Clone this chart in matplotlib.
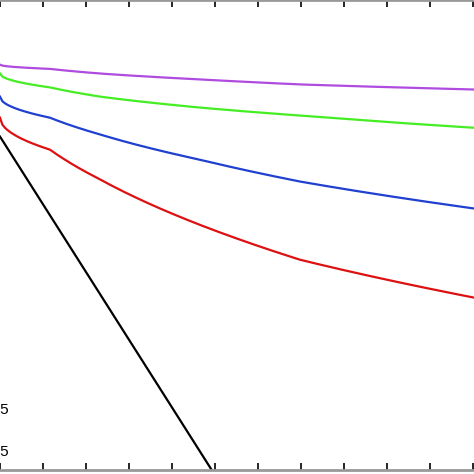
import matplotlib
matplotlib.use("Agg")
import matplotlib.pyplot as plt
import numpy as np

x = [0, 1.16, 2.33, 4.65, 6.98, 11.02]
purple = [0.971, 0.961, 0.950, 0.936, 0.924, 0.912]
green = [0.950, 0.917, 0.895, 0.869, 0.850, 0.821]
blue = [0.895, 0.845, 0.805, 0.745, 0.693, 0.629]
red = [0.845, 0.769, 0.698, 0.590, 0.507, 0.417]
black_x = [0, 5.81]
black_y = [0.800, -0.136]
ytick_vals = [0.05, 0.15]
ytick_labels = ["0.05", "0.15"]
xticks = list(range(0, 12))

fig = plt.figure(figsize=(4.74, 4.74), dpi=100)
ax = fig.add_axes([0, 4/474, 1, 1 - 4/474 + 0.001])
ax.set_xlim(0, 11.02)
ax.set_ylim(0.007, 1.126)

def smooth(xs, ys):
    xx = np.linspace(xs[0], xs[-1], 200)
    # monotone piecewise-quadratic-ish via log-spaced interpolation
    return xx, np.interp(np.sqrt(xx), np.sqrt(xs), ys)

for ys, c in [(purple, "#b04be0"), (green, "#44ee22"), (blue, "#2040d0"), (red, "#dd1111")]:
    xx, yy = smooth(x, ys)
    ax.plot(xx, yy, color=c, lw=1.6)
ax.plot(black_x, black_y, color="black", lw=1.6)

ax.set_xticks(xticks)
ax.set_xticklabels([])
ax.set_yticks([])
ax.tick_params(axis="x", direction="in", top=True, bottom=True, length=5, width=1.2)
for s in ["left", "right"]:
    ax.spines[s].set_visible(False)
ax.spines["top"].set_color("#999999")
ax.spines["bottom"].set_color("#999999")
ax.spines["top"].set_linewidth(2)
ax.spines["bottom"].set_linewidth(2)
for v, l in zip(ytick_vals, ytick_labels):
    ax.text(0.21, v, l, ha="right", va="center", fontsize=11, family="Liberation Sans")

fig.savefig("out.png", dpi=100)
